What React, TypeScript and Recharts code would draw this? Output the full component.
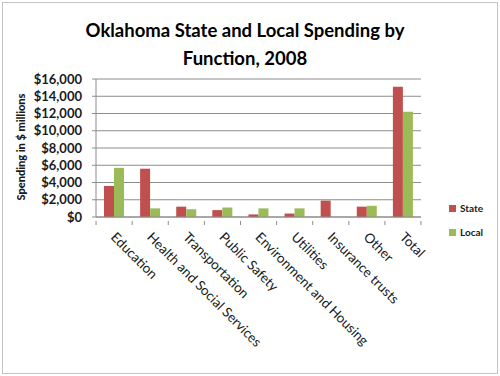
import { BarChart, Bar, XAxis, YAxis, CartesianGrid, Legend } from "recharts";

const categories = [
  "Education",
  "Health and Social Services",
  "Transportation",
  "Public Safety",
  "Environment and Housing",
  "Utilities",
  "Insurance trusts",
  "Other",
  "Total",
];
const stateValues = [3600, 5600, 1200, 800, 300, 400, 1900, 1200, 15100];
const localValues = [5700, 1000, 900, 1100, 1000, 1000, 0, 1300, 12200];
const yTicks = [0, 2000, 4000, 6000, 8000, 10000, 12000, 14000, 16000];
const seriesOrder = ["State", "Local"];

const data = categories.map((name, i) => ({
  name,
  State: stateValues[i],
  Local: localValues[i],
}));

const RED = "#c0504d";
const GREEN = "#9bbb59";
const AXIS = "#8c8c8c";
const FONT = "Lato, 'Open Sans', sans-serif";

// category labels run down-right from the tick, with boundary tick marks
function CategoryTick(props: any) {
  const { x, y, payload, index, visibleTicksCount } = props;
  const half = 18;
  return (
    <g>
      <line x1={x - half} y1={y - 4} x2={x - half} y2={y} stroke={AXIS} />
      {index === visibleTicksCount - 1 && (
        <line x1={x + half} y1={y - 4} x2={x + half} y2={y} stroke={AXIS} />
      )}
      <text
        x={x - 4}
        y={y + 13}
        transform={`rotate(45, ${x - 4}, ${y + 13})`}
        textAnchor="start"
        fontSize={13.5}
        fontFamily={FONT}
        fill="#1a1a1a"
      >
        {payload.value}
      </text>
    </g>
  );
}

function LegendBox(props: any) {
  const items = [...(props.payload || [])].sort(
    (a: any, b: any) => seriesOrder.indexOf(a.value) - seriesOrder.indexOf(b.value)
  );
  return (
    <div style={{ width: 50 }}>
      {items.map((p: any) => (
        <div
          key={p.value}
          style={{ display: "flex", alignItems: "center", height: 24 }}
        >
          <span
            style={{
              width: 7,
              height: 7,
              background: p.color,
              marginRight: 4,
              display: "inline-block",
            }}
          />
          <span style={{ fontSize: 10, fontWeight: 700, fontFamily: FONT, color: "#1a1a1a" }}>
            {p.value}
          </span>
        </div>
      ))}
    </div>
  );
}

export default function App() {
  return (
    <div
      style={{
        position: "absolute",
        left: 0,
        top: 0,
        width: 500,
        height: 376,
        background: "#fff",
      }}
    >
      <div
        style={{
          position: "absolute",
          left: 2,
          top: 2,
          width: 494,
          height: 370,
          border: "1px solid #c4c4c4",
        }}
      />
      <div
        style={{
          position: "absolute",
          left: 0,
          top: 16,
          width: 490,
          textAlign: "center",
          fontFamily: FONT,
          fontWeight: 700,
          fontSize: 18.5,
          lineHeight: "28px",
          color: "#000",
        }}
      >
        Oklahoma State and Local Spending by
        <br />
        Function, 2008
      </div>
      <div
        style={{
          position: "absolute",
          left: 20,
          top: 147,
          transform: "translate(-50%, -50%) rotate(-90deg)",
          whiteSpace: "nowrap",
          fontFamily: FONT,
          fontWeight: 900,
          fontSize: 11,
          color: "#1a1a1a",
        }}
      >
        Spending in $ millions
      </div>
      <BarChart
        width={500}
        height={376}
        data={data}
        margin={{ top: 79, right: 29, bottom: 0, left: 0 }}
        barCategoryGap={8}
        barGap={0}
        style={{ position: "absolute", left: 0, top: 0 }}
      >
        <CartesianGrid vertical={false} stroke={AXIS} strokeWidth={1} />
        <XAxis
          dataKey="name"
          interval={0}
          stroke={AXIS}
          tickLine={false}
          tick={<CategoryTick />}
          height={159}
        />
        <YAxis
          width={96}
          domain={[0, 16000]}
          ticks={yTicks}
          interval={0}
          stroke={AXIS}
          tickSize={4}
          tickMargin={10}
          tickFormatter={(v: number) => `$${v.toLocaleString("en-US")}`}
          tick={{ fill: "#1a1a1a", fontSize: 13, fontWeight: 700, fontFamily: FONT }}
        />
        <Legend
          layout="vertical"
          align="right"
          verticalAlign="top"
          content={<LegendBox />}
          wrapperStyle={{ position: "absolute", left: 449, top: 196, width: 50 }}
        />
        <Bar dataKey="State" fill={RED} isAnimationActive={false} />
        <Bar dataKey="Local" fill={GREEN} isAnimationActive={false} />
      </BarChart>
    </div>
  );
}
